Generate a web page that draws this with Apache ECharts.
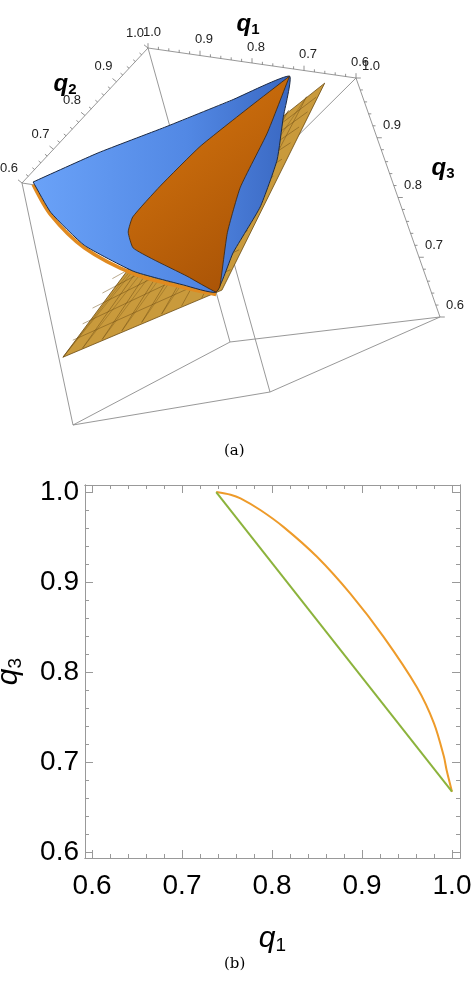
<!DOCTYPE html>
<html>
<head>
<meta charset="utf-8">
<script src="https://cdn.jsdelivr.net/npm/echarts@6/dist/echarts.min.js"></script>
<style>
  html, body { margin: 0; padding: 0; background: #fff; }
  #main { width: 474px; height: 984px; }
</style>
</head>
<body>
<div id="main"></div>
<script>
// ---- panel (a): 3D points (q1, q2, q3) ----
var q1Ticks = [1.0, 0.9, 0.8, 0.7, 0.6];
var q2Ticks = [1.0, 0.9, 0.8, 0.7, 0.6];
var q3Ticks = [1.0, 0.9, 0.8, 0.7, 0.6];

var blueTop = [[0.982, 0.607, 1], [0.916, 0.708, 1], [0.843, 0.80, 1], [0.773, 0.896, 1], [0.715, 0.98, 1]];
var blueRight = [[0.715, 0.98, 1], [0.772, 1, 0.92], [0.81, 1, 0.854], [0.87, 1, 0.784], [0.947, 1, 0.72], [1, 1, 0.668]];
var blueLower = [[1, 1, 0.668], [1, 0.931, 0.700], [1, 0.824, 0.758], [1, 0.721, 0.840], [1, 0.657, 0.922], [0.982, 0.607, 1]];
var orangeLeft = [[0.715, 0.98, 1], [0.831, 1, 0.932], [0.952, 1, 0.868], [1, 0.938, 0.836], [1, 0.854, 0.826],
                  [1, 0.834, 0.812], [1, 0.836, 0.788], [1, 0.876, 0.756], [1, 0.944, 0.708], [1, 1, 0.668]];
var orangeRight = [[1, 1, 0.668], [0.99, 1, 0.675], [0.947, 1, 0.748], [0.897, 1, 0.812], [0.813, 1, 0.894], [0.715, 0.98, 1]];
var planeCorners = [[0.644, 0.975, 1], [0.988, 1, 0.67], [1, 0.61, 0.708], [0.656, 0.585, 1.038]];

// ---- panel (b) ----
var orangeQ1 = [0.738, 0.754, 0.765, 0.787, 0.813, 0.850, 0.887, 0.924, 0.961, 0.980, 0.991, 0.994, 1.0];
var orangeQ3 = [1.0, 0.997, 0.993, 0.980, 0.961, 0.928, 0.887, 0.839, 0.783, 0.743, 0.706, 0.691, 0.667];
var greenQ1 = [0.738, 1.0];
var greenQ3 = [1.0, 0.667];
var bTicks = [0.6, 0.7, 0.8, 0.9, 1.0];
var bMinor = [];
for (var i = 0; i <= 20; i++) bMinor.push(+(0.6 + i * 0.02).toFixed(2));

// screen position of the box corners (index: q1 low?, q2 low?, q3 low?)
var corner = {
    '000': [148, 48], '100': [356, 78], '010': [22, 183], '110': [220, 213],
    '001': [230, 342], '101': [440, 317], '011': [73, 425], '111': [270, 392]
};
function proj(p) {
    var u = (1 - p[0]) / 0.4, v = (1 - p[1]) / 0.4, w = (1 - p[2]) / 0.4;
    var x = 0, y = 0;
    [0, 1].forEach(function (a) { [0, 1].forEach(function (b) { [0, 1].forEach(function (c) {
        var k = (a ? u : 1 - u) * (b ? v : 1 - v) * (c ? w : 1 - w);
        var q = corner['' + a + b + c];
        x += k * q[0]; y += k * q[1];
    }); }); });
    return [x, y];
}
function lerp3(a, b, t) { return [a[0] + (b[0] - a[0]) * t, a[1] + (b[1] - a[1]) * t, a[2] + (b[2] - a[2]) * t]; }

function renderA(params, api) {
    function pt(p) { return api.coord(proj(p)); }
    function pts(arr) { return arr.map(pt); }
    var kids = [];
    var boxStyle = { stroke: '#8c8c8c', lineWidth: 0.9, fill: null };
    var edges = [['000', '100'], ['000', '010'], ['100', '110'], ['010', '110'],
                 ['001', '101'], ['001', '011'], ['101', '111'], ['011', '111'],
                 ['000', '001'], ['100', '101'], ['010', '011'], ['110', '111']];
    edges.forEach(function (e) {
        kids.push({ type: 'line', shape: { x1: api.coord(corner[e[0]])[0], y1: api.coord(corner[e[0]])[1],
            x2: api.coord(corner[e[1]])[0], y2: api.coord(corner[e[1]])[1] }, style: boxStyle });
    });
    // ticks + labels
    function ticks(fn, vals, dx, dy, lx, ly) {
        for (var t = 0; t <= 20; t++) {
            var val = 1 - t * 0.02;
            var p = pt(fn(val));
            var major = t % 5 === 0;
            var s = major ? 1.6 : 0.9;
            kids.push({ type: 'line', shape: { x1: p[0], y1: p[1], x2: p[0] + dx * s, y2: p[1] + dy * s },
                style: { stroke: '#777', lineWidth: 0.8 } });
        }
        vals.forEach(function (val) {
            var p = pt(fn(val));
            kids.push({ type: 'text', x: p[0] + lx, y: p[1] + ly,
                style: { text: val.toFixed(1), fontSize: 13, fontFamily: 'Liberation Sans', fill: '#222',
                    align: 'center', verticalAlign: 'middle' } });
        });
    }
    ticks(function (v) { return [v, 1, 1]; }, q1Ticks, 0, -3, 4, -16);
    ticks(function (v) { return [1, v, 1]; }, q2Ticks, -2.5, -2, -13, -15);
    ticks(function (v) { return [0.6, 1, v]; }, q3Ticks, 3, 0, 15, -12);

    // plane
    var pc = planeCorners;
    kids.push({ type: 'polygon', shape: { points: pts([pc[0], pc[1], pc[2], pc[3]]) },
        style: { fill: '#c99a3c', stroke: '#6b4a10', lineWidth: 0.8 } });
    for (var k = 1; k < 12; k++) {
        var t = k / 12;
        var a = pt(lerp3(pc[0], pc[1], t)), b = pt(lerp3(pc[3], pc[2], t));
        kids.push({ type: 'line', shape: { x1: a[0], y1: a[1], x2: b[0], y2: b[1] }, style: { stroke: '#6b4a10', lineWidth: 0.6, opacity: 0.8 } });
    }
    for (k = 1; k < 8; k++) {
        t = k / 8;
        a = pt(lerp3(pc[0], pc[3], t)); b = pt(lerp3(pc[1], pc[2], t));
        kids.push({ type: 'line', shape: { x1: a[0], y1: a[1], x2: b[0], y2: b[1] }, style: { stroke: '#6b4a10', lineWidth: 0.6, opacity: 0.8 } });
        var c = pt(lerp3(pc[1], pc[2], Math.min(1, t + 0.25)));
        kids.push({ type: 'line', shape: { x1: a[0], y1: a[1], x2: c[0], y2: c[1] }, style: { stroke: '#6b4a10', lineWidth: 0.5, opacity: 0.7 } });
    }
    // orange rim under the blue lower edge
    var rim = pts(blueLower).map(function (p) { return [p[0], p[1] + 2.5]; });
    kids.push({ type: 'polyline', shape: { points: rim, smooth: 0.3 },
        style: { stroke: '#e08a20', lineWidth: 3.5, fill: null } });
    // blue surface
    var blue = pts(blueTop.concat(blueRight.slice(1), blueLower.slice(1)));
    kids.push({ type: 'polygon', shape: { points: blue, smooth: 0.15 },
        style: { fill: new echarts.graphic.LinearGradient(0, 0, 1, 0, [
            { offset: 0, color: '#6aa2f8' }, { offset: 0.6, color: '#5288e4' }, { offset: 1, color: '#3a68c2' }]),
            stroke: '#1c2a44', lineWidth: 1 } });
    // orange surface
    var orange = pts(orangeLeft.concat(orangeRight.slice(1)));
    kids.push({ type: 'polygon', shape: { points: orange, smooth: 0.15 },
        style: { fill: new echarts.graphic.LinearGradient(0, 0, 1, 1, [
            { offset: 0, color: '#d9780f' }, { offset: 1, color: '#a24e05' }]),
            stroke: '#3a2208', lineWidth: 0.8 } });
    // axis names
    function name(txt, x, y) {
        var p = api.coord([x, y]);
        kids.push({ type: 'text', x: p[0], y: p[1], style: { text: '{q|q}{s|' + txt + '}',
            align: 'center', verticalAlign: 'middle',
            rich: { q: { fontSize: 24, fontWeight: 'bold', fontStyle: 'italic', fontFamily: 'Liberation Sans', fill: '#000' },
                    s: { fontSize: 15, fontWeight: 'bold', fontFamily: 'Liberation Sans', fill: '#000', padding: [12, 0, 0, 0] } } } });
    }
    name('1', 248, 24);
    name('2', 65, 84);
    name('3', 443, 168);
    return { type: 'group', children: kids };
}

function axisPair(dim, pos, withLabels) {
    var base = {
        type: 'value', position: pos,
        min: dim === 'x' ? 0.5922 : 0.5933, max: dim === 'x' ? 1.0089 : 1.0078,
        gridIndex: 1, splitLine: { show: false },
        axisLine: { show: true, onZero: false, lineStyle: { color: '#999', width: 1 } }
    };
    var minor = Object.assign({}, base, {
        axisTick: { show: true, inside: true, length: 4, customValues: bMinor, lineStyle: { color: '#999' } },
        axisLabel: { show: false }
    });
    var major = Object.assign({}, base, {
        axisTick: { show: true, inside: true, length: 8, customValues: bTicks, lineStyle: { color: '#999' } },
        axisLabel: { show: withLabels, customValues: bTicks, fontSize: 28, color: '#000', fontFamily: 'Liberation Sans',
            margin: dim === 'x' ? 14 : 6, formatter: function (v) { return v.toFixed(1); } }
    });
    if (withLabels) {
        major.name = '{q|q}{s|' + (dim === 'x' ? '1' : '3') + '}';
        major.nameLocation = 'middle';
        major.nameGap = dim === 'x' ? 64 : 60;
        major.nameTextStyle = { rich: {
            q: { fontSize: 30, fontStyle: 'italic', fontFamily: 'Liberation Sans', color: '#000' },
            s: { fontSize: 19, fontFamily: 'Liberation Sans', color: '#000', padding: [14, 0, 0, 0] } } };
    }
    return [major, minor];
}

var chart = echarts.init(document.getElementById('main'));
var xs = [{ type: 'value', min: 0, max: 474, show: false, gridIndex: 0 }]
    .concat(axisPair('x', 'bottom', true), axisPair('x', 'top', false));
var ys = [{ type: 'value', min: 0, max: 440, inverse: true, show: false, gridIndex: 0 }]
    .concat(axisPair('y', 'left', true), axisPair('y', 'right', false));

chart.setOption({
    animation: false,
    backgroundColor: '#fff',
    grid: [
        { left: 0, top: 0, width: 474, height: 440, containLabel: false, outerBoundsMode: 'none' },
        { left: 85, top: 485, width: 375, height: 373, containLabel: false, outerBoundsMode: 'none' }
    ],
    xAxis: xs,
    yAxis: ys,
    graphic: [
        { type: 'text', left: 224, top: 444, style: { text: '(a)', fontSize: 15, fontFamily: 'DejaVu Serif', fill: '#000' } },
        { type: 'text', left: 224, top: 957, style: { text: '(b)', fontSize: 15, fontFamily: 'DejaVu Serif', fill: '#000' } }
    ],
    series: [
        { type: 'custom', xAxisIndex: 0, yAxisIndex: 0, data: [0], renderItem: renderA, silent: true },
        { type: 'line', xAxisIndex: 1, yAxisIndex: 1, showSymbol: false, smooth: 0.3,
          data: orangeQ1.map(function (v, i) { return [v, orangeQ3[i]]; }),
          lineStyle: { color: '#ee9b2a', width: 2 } },
        { type: 'line', xAxisIndex: 1, yAxisIndex: 1, showSymbol: false,
          data: greenQ1.map(function (v, i) { return [v, greenQ3[i]]; }),
          lineStyle: { color: '#8cb33c', width: 2 } }
    ]
});
</script>
</body>
</html>
